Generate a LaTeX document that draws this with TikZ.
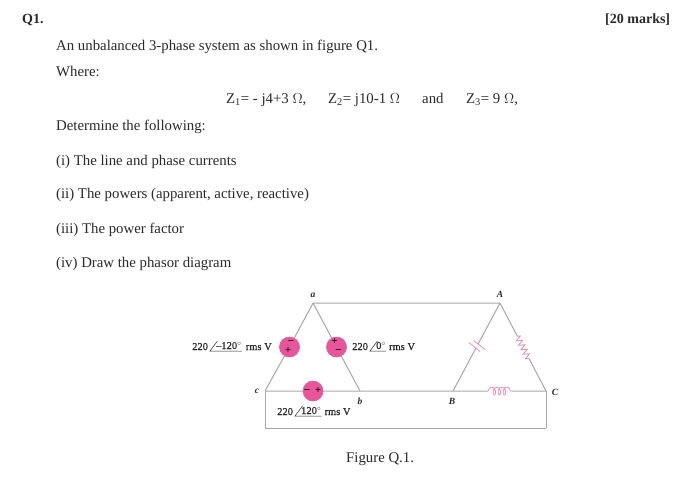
\documentclass[tikz,border=0pt]{standalone}
\usepackage{fontspec}
\setmainfont{Liberation Serif}
\usetikzlibrary{decorations.pathmorphing}
\definecolor{wire}{HTML}{A8A8A8}
\definecolor{srcpink}{HTML}{E8559A}
\definecolor{elem}{HTML}{E88FB8}
\definecolor{ink}{HTML}{2A2A2A}
\newcommand{\ang}[1]{\tikz[baseline=0pt,x=1pt,y=1pt]{\node[inner sep=0pt,anchor=base west] (t) at (6,1) {#1};\draw[line width=.5pt,ink] (7.5,9)--(0,-1)--(t.east|-0,-1);}}
\tikzset{
 body/.style={anchor=base west,inner sep=0pt,text=ink,font=\fontsize{14.8}{17}\selectfont},
 head/.style={body,font=\fontsize{14}{16}\selectfont\bfseries},
 small/.style={anchor=base west,inner sep=0pt,text=ink,font=\fontsize{10.5}{12}\selectfont\addfontfeature{FakeBold=0.4}},
 term/.style={inner sep=0pt,text=ink,font=\fontsize{9.5}{10}\selectfont\bfseries\itshape},
 junction/.style={inner sep=0pt,minimum size=0pt},
 wireline/.style={draw=wire,line width=1pt},
 source/.style={circle,fill=srcpink,draw=srcpink!70!wire,line width=.4pt,minimum size=20pt,inner sep=0pt},
 sign/.style={inner sep=0pt,text=black,font=\fontsize{10.5}{10.5}\selectfont\bfseries},
 elemline/.style={draw=elem,line width=.8pt}
}
\begin{document}
\begin{tikzpicture}[x=1pt,y=-1pt]
\useasboundingbox (0,0) rectangle (700,479);
\fill[white] (0,0) rectangle (700,479);
\node[head] (q) at (22,23) {Q1.};
\node[head] (m) at (605,23) {[20 marks]};
\node[body] (l1) at (56,50) {An unbalanced 3-phase system as shown in figure Q1.};
\node[body] (l2) at (56,76) {Where:};
\node[body] (z1) at (226,103) {Z\textsubscript{1}= - j4+3 $\Omega$,};
\node[body] (z2) at (328,103) {Z\textsubscript{2}= j10-1 $\Omega$};
\node[body] (z3) at (422,103) {and};
\node[body] (z4) at (466,103) {Z\textsubscript{3}= 9 $\Omega$,};
\node[body] (l3) at (56,130) {Determine the following:};
\node[body] (l4) at (56,165) {(i) The line and phase currents};
\node[body] (l5) at (56,198) {(ii) The powers (apparent, active, reactive)};
\node[body] (l6) at (56,233) {(iii) The power factor};
\node[body] (l7) at (56,267) {(iv) Draw the phasor diagram};
\node[body] (cap) at (346,462) {Figure Q.1.};

% junctions
\node[junction] (a) at (313,303) {};
\node[junction] (c) at (265,391) {};
\node[junction] (b) at (360,391) {};
\node[junction] (A) at (500,303) {};
\node[junction] (B) at (453,391) {};
\node[junction] (C) at (546,391) {};
\node[junction] (cd) at (265,428) {};
\node[junction] (Cd) at (546,428) {};
% sources
\node[source] (s1) at (289.5,347) {};
\node[source] (s2) at (336.5,347) {};
\node[source] (s3) at (313,391) {};
% load elements
\node[junction] (r1) at (517,336) {};
\node[junction] (r2) at (529,359) {};
\node[junction] (l1a) at (488,391) {};
\node[junction] (l1b) at (512,391) {};

\draw[wireline] (a) -- (A) -- (B) -- (C) -- (A);
\draw[wireline] (a) -- (s1) -- (c) -- (s3) -- (B);
\draw[wireline] (a) -- (s2) -- (b);
\draw[wireline] (c) -- (cd) -- (Cd) -- (C);

% redraw sources above the wires
\node[source] at (s1) {};
\node[source] at (s2) {};
\node[source] at (s3) {};
\node[sign] at (291,342) {--};
\node[sign] at (288,351) {+};
\node[sign] at (334.5,342) {+};
\node[sign] at (338.5,351) {--};
\node[sign] at (307,391) {--};
\node[sign] at (318,391) {+};

% capacitor
\fill[white] (473,345.5) -- (479,349.5) -- (481,346.5) -- (475,342.5) -- cycle;
\draw[elemline] (469,342.5) -- (480,351.5);
\draw[elemline] (473.5,340.5) -- (485,349.5);
% resistor
\draw[white,line width=2pt] (r1) -- (r2);
\draw[elemline,decorate,decoration={zigzag,segment length=5pt,amplitude=3pt}] (r1) -- (r2);
% inductor
\draw[white,line width=2pt] (l1a) -- (l1b);
\draw[elemline,decorate,decoration={coil,aspect=.6,segment length=5pt,amplitude=4pt}] (l1a) -- (l1b);

% labels
\node[term] at (313,295) {a};
\node[term] at (500,294) {A};
\node[term] at (257,391) {c};
\node[term] at (360,401) {b};
\node[term] at (452,401) {B};
\node[term] at (555,392) {C};
\node[small] (v1) at (192,350) {220\,\ang{--120$^\circ$}\hspace{1pt} rms V};
\node[small] (v2) at (352,350) {220\,\ang{0$^\circ$} rms V};
\node[small] (v3) at (277,415) {220\,\ang{120$^\circ$} rms V};
\end{tikzpicture}
\end{document}
